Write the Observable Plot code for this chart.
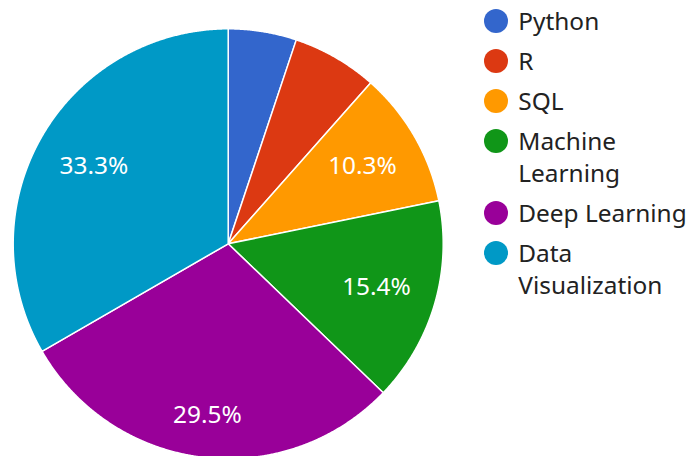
<!DOCTYPE html>
<html>
<head>
<meta charset="utf-8">
<script src="https://cdn.jsdelivr.net/npm/d3@7"></script>
<script src="https://cdn.jsdelivr.net/npm/@observablehq/plot@0.6"></script>
<style>
  html, body { margin: 0; padding: 0; background: #fff; }
  #wrap { position: relative; width: 688px; height: 456px; overflow: hidden; font-family: "Noto Sans", sans-serif; }
  #legend { position: absolute; left: 484px; top: 4.7px; }
  .item { display: flex; align-items: flex-start; margin-bottom: 8px; }
  .sw { width: 24px; height: 24px; border-radius: 50%; margin-top: 4px; flex: none; }
  .lab { margin-left: 10.3px; font-size: 24.4px; line-height: 32px; color: #222222; width: 175px; }
</style>
</head>
<body>
<div id="wrap"><div id="chart"></div><div id="legend"></div></div>
<script>
// ---- data ----
const names = ["Python", "R", "SQL", "Machine Learning", "Deep Learning", "Data Visualization"];
const counts = [4, 5, 8, 12, 23, 26];
const colors = ["#3366cc", "#dc3912", "#ff9900", "#109618", "#990099", "#0099c6"];

// ---- layout params ----
const W = 688, H = 456;
const R = 215;              // pie radius in px
const cx = 227.7, cy = 243.3; // pie centre in px
const fontSize = 24.4;

const total = d3.sum(counts);
const pie = d3.pie().sort(null).value(d => d.count).startAngle(0).endAngle(2 * Math.PI);
const rows = names.map((name, i) => ({name, count: counts[i]}));
const arcs = pie(rows);

// slice outlines as closed polygons in unit-circle coordinates
const pts = [];
for (const a of arcs) {
  const span = a.endAngle - a.startAngle;
  const n = Math.max(2, Math.ceil(span / (0.25 * Math.PI / 180)));
  pts.push({name: a.data.name, x: 0, y: 0});
  for (let k = 0; k <= n; ++k) {
    const t = a.startAngle + span * k / n;
    pts.push({name: a.data.name, x: Math.sin(t), y: Math.cos(t)});
  }
}

// percentage labels
const ctx = document.createElement("canvas").getContext("2d");
ctx.font = `${fontSize}px "Noto Sans"`;
const labels = [];
for (const a of arcs) {
  const share = a.data.count / total;
  if (share < 0.08) continue;
  const text = (share * 100).toFixed(1) + "%";
  const mid = (a.startAngle + a.endAngle) / 2;
  const ux = Math.sin(mid), uy = Math.cos(mid);
  const hw = ctx.measureText(text).width / 2, hh = 10.6, T = 0.885 * R;
  const b = Math.abs(ux) * hw + Math.abs(uy) * hh;
  const d = -b + Math.sqrt(b * b - (hw * hw + hh * hh - T * T));
  labels.push({text, x: ux * d / R, y: uy * d / R});
}

const yMin = -(H - cy) / R, yMax = 1 + (cy - R) / R;
const chart = Plot.plot({
  width: W,
  height: H,
  marginLeft: cx - R,
  marginRight: W - (cx + R),
  marginTop: 0,
  marginBottom: 0,
  x: {domain: [-1, 1], axis: null},
  y: {domain: [yMin, yMax], axis: null},
  color: {domain: names, range: colors},
  style: {fontFamily: "Noto Sans", background: "transparent"},
  marks: [
    Plot.line(pts, {x: "x", y: "y", z: "name", fill: "name", stroke: "white", strokeWidth: 1.5, curve: "linear-closed"}),
    Plot.text(labels, {x: "x", y: "y", text: "text", fill: "white", fontSize, textAnchor: "middle", lineAnchor: "middle"})
  ]
});
document.getElementById("chart").appendChild(chart);

// legend
const leg = document.getElementById("legend");
names.forEach((n, i) => {
  const it = document.createElement("div");
  it.className = "item";
  const sw = document.createElement("div");
  sw.className = "sw";
  sw.style.background = colors[i];
  const lb = document.createElement("div");
  lb.className = "lab";
  lb.textContent = n;
  it.appendChild(sw); it.appendChild(lb);
  leg.appendChild(it);
});
</script>
</body>
</html>
